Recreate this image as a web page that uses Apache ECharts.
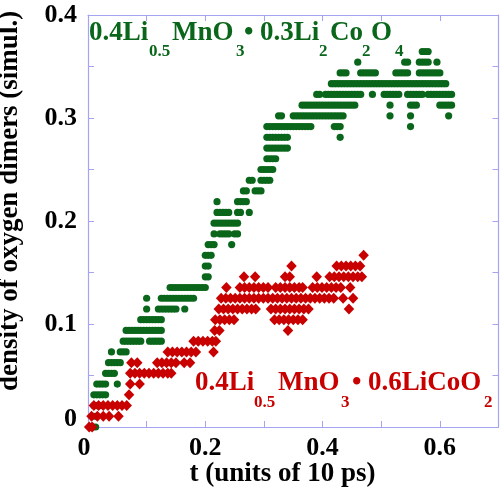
<!DOCTYPE html>
<html><head><meta charset="utf-8">
<script src="https://cdn.jsdelivr.net/npm/echarts/dist/echarts.min.js"></script>
<style>html,body{margin:0;padding:0;background:#fff}#c{width:500px;height:489px}</style>
</head><body><div id="c"></div>
<script>
// density of oxygen dimers = dimer count / SITES
const SITES = 96;

// 0.4Li0.5MnO3 • 0.3Li2Co2O4 : dimer count levels and the times (units of 10 ps) where each level is observed
const greenCounts = [0,1,2,3,4,5,6,7,8,9,10,11,12,13,14,15,16,17,18,19,20,21,22,23,24,25,26,27,28,29,30,31,32,33,34,35];
const greenTimes = [
  [0.008,0.013],
  [0.010,0.015],
  [0.010,0.015,0.020],
  [0.010,0.015,0.020,0.025,0.030],
  [0.015,0.020,0.025,0.030,0.050],
  [0.030,0.035,0.040,0.045],
  [0.035,0.040,0.045,0.050,0.055],
  [0.040,0.055,0.060,0.065],
  [0.060,0.065,0.070,0.075,0.080,0.085,0.090,0.105,0.110,0.115,0.120,0.125],
  [0.065,0.070,0.075,0.080,0.085,0.090,0.095,0.100,0.105,0.110,0.115,0.120,0.125],
  [0.090,0.095,0.100,0.105,0.110,0.115,0.120,0.125],
  [0.100,0.120,0.125,0.130,0.135,0.140,0.145,0.150,0.165],
  [0.100,0.125,0.130,0.135,0.140,0.145,0.150,0.155,0.160,0.165,0.170,0.175,0.180],
  [0.140,0.145,0.150,0.155,0.160,0.165,0.170,0.175,0.180,0.185,0.190,0.195,0.200],
  [0.200,0.205],
  [0.200,0.205],
  [0.200,0.205,0.210],
  [0.205,0.210,0.215,0.245],
  [0.215,0.225,0.230,0.235,0.240,0.250,0.255],
  [0.215,0.220,0.225,0.230,0.235,0.240,0.245,0.250,0.255],
  [0.220,0.225,0.230,0.235,0.240,0.255,0.260,0.275],
  [0.220,0.255,0.260,0.265,0.270],
  [0.265,0.270,0.285,0.290,0.295],
  [0.275,0.280,0.295,0.300,0.305,0.310],
  [0.295,0.300,0.305,0.310,0.315],
  [0.305,0.310,0.315,0.320],
  [0.305,0.310,0.315,0.320,0.325,0.330,0.335,0.340],
  [0.305,0.310,0.315,0.320,0.325,0.330,0.335,0.340,0.430],
  [0.305,0.310,0.315,0.320,0.325,0.330,0.335,0.340,0.345,0.350,0.355,0.360,0.365,0.370,0.375,0.380,0.420,0.425,0.430,0.550],
  [0.325,0.330,0.350,0.355,0.360,0.365,0.370,0.375,0.380,0.385,0.390,0.395,0.400,0.405,0.410,0.415,0.420,0.425,0.430,0.435,0.515,0.550,0.615],
  [0.365,0.370,0.375,0.380,0.385,0.390,0.395,0.400,0.405,0.410,0.415,0.420,0.425,0.430,0.435,0.440,0.445,0.450,0.455,0.515,0.550,0.555,0.560,0.600,0.605,0.610,0.615,0.620],
  [0.390,0.395,0.405,0.410,0.415,0.420,0.425,0.430,0.435,0.440,0.445,0.450,0.455,0.460,0.465,0.485,0.505,0.510,0.515,0.520,0.525,0.530,0.545,0.550,0.555,0.560,0.565,0.570,0.580,0.585,0.590,0.595,0.600,0.605,0.610,0.615,0.620],
  [0.415,0.420,0.425,0.430,0.435,0.440,0.445,0.450,0.455,0.460,0.465,0.470,0.475,0.480,0.485,0.490,0.495,0.500,0.505,0.510,0.515,0.520,0.525,0.530,0.535,0.540,0.545,0.550,0.555,0.560,0.565,0.570,0.575,0.580,0.585,0.590,0.595,0.600,0.605,0.610],
  [0.430,0.435,0.440,0.465,0.470,0.475,0.480,0.485,0.490,0.525,0.530,0.535,0.540,0.545,0.565,0.570,0.575,0.580,0.585,0.590,0.595,0.600],
  [0.460,0.540,0.545,0.565,0.570,0.575,0.580,0.595],
  [0.570,0.575,0.580]
];

// 0.4Li0.5MnO3 • 0.6LiCoO2
const redCounts = [0,1,2,3,4,5,6,7,8,9,10,11,12,13,14,15,16];
const redTimes = [
  [0.002,0.007],
  [0.006,0.016,0.026,0.036,0.052],
  [0.010,0.018,0.026,0.034,0.042,0.050,0.058,0.066],
  [0.070],
  [0.072,0.088],
  [0.072,0.080,0.088,0.096,0.104,0.112,0.120,0.128,0.136,0.142],
  [0.074,0.084,0.118,0.126,0.134,0.142,0.150,0.164,0.174],
  [0.136,0.144,0.152,0.160,0.168,0.176,0.184,0.214],
  [0.180,0.188,0.196,0.204,0.212,0.218],
  [0.216,0.224,0.341],
  [0.217,0.225,0.233,0.241,0.249,0.318,0.326,0.334,0.342,0.350,0.358,0.366],
  [0.223,0.231,0.239,0.247,0.255,0.263,0.271,0.279,0.286,0.312,0.320,0.328,0.336,0.344,0.352,0.360,0.368,0.376,0.445],
  [0.227,0.235,0.243,0.251,0.259,0.267,0.275,0.283,0.291,0.299,0.307,0.315,0.323,0.331,0.339,0.347,0.355,0.363,0.371,0.379,0.387,0.395,0.403,0.411,0.419,0.435,0.452],
  [0.236,0.259,0.267,0.275,0.283,0.291,0.299,0.307,0.320,0.328,0.336,0.344,0.352,0.360,0.366,0.383,0.391,0.399,0.407,0.415,0.423,0.431,0.447],
  [0.266,0.285,0.336,0.344,0.390,0.412,0.420,0.428,0.436,0.444,0.452,0.460,0.467],
  [0.347,0.424,0.432,0.440,0.448,0.456,0.464],
  [0.470]
];

const xTickLabels = ['0','','0.2','','0.4','','0.6',''];
const yTickLabels = ['0','','0.1','','0.2','','0.3','','0.4'];

const GREEN = '#0a661a';
const RED = '#c80000';
const FRAME = '#a4a4f2';
const SERIF = '"Liberation Serif","Times New Roman",serif';

function toPoints(counts, times) {
  const out = [];
  counts.forEach((c, i) => times[i].forEach(t => out.push([t, c / SITES])));
  return out;
}

const mainFont = 'bold 27px ' + SERIF;
const subFont = 'bold 17px ' + SERIF;
function piece(text, x, baseline, sub, color) {
  const fs = sub ? 17 : 27;
  return {
    type: 'text', x: x, y: baseline - 0.305 * fs, silent: true, z: 100,
    style: { text: text, font: sub ? subFont : mainFont, fill: color,
      align: 'left', verticalAlign: 'middle', textAlign: 'left', textVerticalAlign: 'middle' }
  };
}

const gB = 41.5, gS = 56.5, rB = 391.7, rS = 408;
const graphics = [
  piece('0.4Li', 89, gB, false, GREEN),
  piece('0.5', 149, gS, true, GREEN),
  piece('MnO', 172, gB, false, GREEN),
  piece('3', 236, gS, true, GREEN),
  piece('\u2022', 244, gB, false, GREEN),
  piece('0.3Li', 260, gB, false, GREEN),
  piece('2', 319, gS, true, GREEN),
  piece('Co', 330, gB, false, GREEN),
  piece('2', 362, gS, true, GREEN),
  piece('O', 371, gB, false, GREEN),
  piece('4', 395, gS, true, GREEN),

  piece('0.4Li', 195, rB, false, RED),
  piece('0.5', 254, rS, true, RED),
  piece('MnO', 278, rB, false, RED),
  piece('3', 341, rS, true, RED),
  piece('\u2022', 352, rB, false, RED),
  piece('0.6LiCoO', 368, rB, false, RED),
  piece('2', 484, rS, true, RED),

  { type: 'text', x: 282.5, y: 474, silent: true,
    style: { text: 't (units of 10 ps)', font: 'bold 27px ' + SERIF, fill: '#000',
      align: 'center', verticalAlign: 'middle', textAlign: 'center', textVerticalAlign: 'middle' } },
  { type: 'text', x: 10, y: 201, rotation: Math.PI / 2, silent: true,
    style: { text: 'density of oxygen dimers (simul.)', font: 'bold 27px ' + SERIF, fill: '#000',
      align: 'center', verticalAlign: 'middle', textAlign: 'center', textVerticalAlign: 'middle' } }
];

const tickStyle = { show: true, inside: true, length: 6, lineStyle: { color: FRAME, width: 1 } };
const lineStyle = { show: true, onZero: false, lineStyle: { color: FRAME, width: 1.2 } };
const labelBase = { fontFamily: SERIF, fontWeight: 'bold', fontSize: 26, color: '#000' };

const chart = echarts.init(document.getElementById('c'), null, { renderer: 'canvas' });
chart.setOption({
  animation: false,
  backgroundColor: '#fff',
  grid: { left: 88, right: 1.5, top: 15, bottom: 62, containLabel: false, outerBoundsMode: 'none' },
  xAxis: [
    { type: 'value', min: 0, max: 0.7, interval: 0.1, position: 'bottom',
      axisLine: lineStyle, axisTick: tickStyle, splitLine: { show: false },
      axisLabel: Object.assign({}, labelBase, { margin: 8, showMinLabel: true, showMaxLabel: true, hideOverlap: false,
        formatter: (v, i) => i === 0 ? '{z|' + xTickLabels[0] + '}' : (xTickLabels[i] || ''),
        rich: { z: Object.assign({}, labelBase, { padding: [0, 8, 0, 0] }) } }) },
    { type: 'value', min: 0, max: 0.7, interval: 0.1, position: 'top',
      axisLine: lineStyle, axisTick: tickStyle, splitLine: { show: false }, axisLabel: { show: false } }
  ],
  yAxis: [
    { type: 'value', min: 0, max: 0.4, interval: 0.05, position: 'left',
      axisLine: lineStyle, axisTick: tickStyle, splitLine: { show: false },
      axisLabel: Object.assign({}, labelBase, { margin: 11, showMinLabel: true, showMaxLabel: true, hideOverlap: false,
        formatter: (v, i) => i === 0 ? '{z|' + yTickLabels[0] + '}' : (yTickLabels[i] || ''),
        rich: { z: Object.assign({}, labelBase, { padding: [0, 0, 16, 0] }) } }) },
    { type: 'value', min: 0, max: 0.4, interval: 0.05, position: 'right',
      axisLine: lineStyle, axisTick: tickStyle, splitLine: { show: false }, axisLabel: { show: false } }
  ],
  series: [
    { name: '0.4Li0.5MnO3 • 0.3Li2Co2O4', type: 'scatter', symbol: 'circle', symbolSize: 7.2,
      itemStyle: { color: GREEN, opacity: 1 }, data: toPoints(greenCounts, greenTimes), z: 2, silent: true },
    { name: '0.4Li0.5MnO3 • 0.6LiCoO2', type: 'scatter', symbol: 'diamond', symbolSize: [10.5, 11],
      itemStyle: { color: RED, opacity: 1 }, data: toPoints(redCounts, redTimes), z: 3, silent: true }
  ],
  graphic: graphics
});
</script></body></html>
